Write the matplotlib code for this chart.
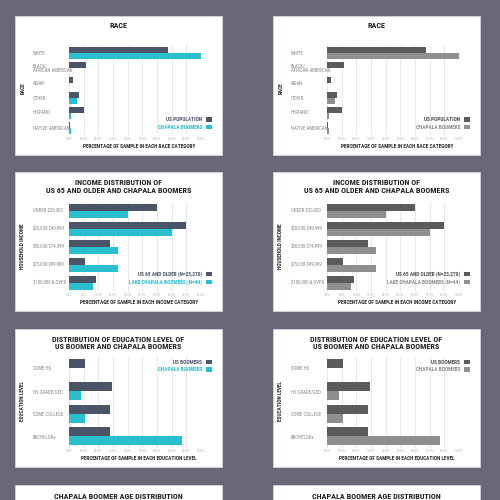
import matplotlib
matplotlib.use("Agg")
import matplotlib.pyplot as plt
from matplotlib import font_manager as fm
from matplotlib.patches import Rectangle, Patch
import numpy as np

# ---------------- data ----------------
race_cats = ["WHITE", "BLACK/\nAFRICAN AMERICAN", "ASIAN", "OTHER", "HISPANIC", "NATIVE AMERICAN"]
race_us = [67.4, 11.3, 2.9, 6.6, 10.4, 0.7]
race_chapala = [91.2, 0.0, 0.0, 5.4, 1.6, 1.6]
race_ticks = [0, 10, 20, 30, 40, 50, 60, 70, 80, 90]
race_legend = ["US POPULATION", "CHAPALA BOOMERS"]

income_cats = [r"UNDER \$20,000", r"\$20,000-\$49,999", r"\$50,000-\$74,999",
               r"\$75,000-\$99,999", r"\$100,000 & OVER"]
income_us = [30.0, 40.0, 14.1, 5.5, 9.1]
income_chapala = [20.0, 35.0, 16.7, 16.7, 8.2]
income_ticks = [0, 5, 10, 15, 20, 25, 30, 35, 40, 45]
income_legend = ["US 65 AND OLDER (N=23,270)", "LAKE CHAPALA BOOMERS (N=44)"]

edu_cats = ["SOME HS", "HS GRADE/GED", "SOME COLLEGE", "BACHELOR+"]
edu_us = [11.1, 29.2, 27.8, 27.8]
edu_chapala = [0.0, 8.1, 11.1, 77.1]
edu_ticks = [0, 10, 20, 30, 40, 50, 60, 70, 80, 90]
edu_legend = ["US BOOMERS", "CHAPALA BOOMERS"]

titles = ["RACE",
          "INCOME DISTRIBUTION OF\nUS 65 AND OLDER AND CHAPALA BOOMERS",
          "DISTRIBUTION OF EDUCATION LEVEL OF\nUS BOOMER AND CHAPALA BOOMERS",
          "CHAPALA BOOMER AGE DISTRIBUTION"]
ylabels = ["RACE", "HOUSEHOLD INCOME", "EDUCATION LEVEL"]
xlabels = ["PERCENTAGE OF SAMPLE IN EACH RACE CATEGORY",
           "PERCENTAGE OF SAMPLE IN EACH INCOME CATEGORY",
           "PERCENTAGE OF SAMPLE IN EACH EDUCATION LEVEL"]

# ---------------- fonts ----------------
avail = {f.name for f in fm.fontManager.ttflist}
FAM = "DejaVu Sans"
for cand in ["Liberation Sans Narrow", "Roboto Condensed", "Open Sans Condensed", "DejaVu Sans"]:
    if cand in avail:
        FAM = cand
        break
plt.rcParams["font.family"] = [FAM, "DejaVu Sans"]
plt.rcParams["font.stretch"] = "condensed"

BG = "#6b6779"
COLOR_SETS = [
    dict(us="#4a5568", ch="#29bfcf", us_txt="#4a5568", ch_txt="#29bfcf"),
    dict(us="#5b5b5b", ch="#8f8f8f", us_txt="#4f4f4f", ch_txt="#8a8a8a"),
]

fig = plt.figure(figsize=(5, 5), dpi=100, facecolor=BG)

def fx(x):
    return x / 500.0

def fy(y):
    return 1 - y / 500.0

def card(x0, y0, x1, y1):
    fig.patches.append(Rectangle((fx(x0), fy(y1)), (x1 - x0) / 500, (y1 - y0) / 500,
                                 transform=fig.transFigure, facecolor="white",
                                 edgecolor="#dcdce2", lw=0.5, zorder=-5))

def chart(xo, cfg, cats, us, ch, ticks, legend_labels, colors):
    ax = fig.add_axes([fx(69 + xo), fy(cfg["ax_bot"]), (201 - 69) / 500,
                       (cfg["ax_bot"] - cfg["ax_top"]) / 500])
    ax.set_zorder(2)
    n = len(cats)
    pos = np.arange(n)
    h = 0.4
    ax.barh(pos - h / 2, us, height=h, color=colors["us"], zorder=2)
    ax.barh(pos + h / 2, ch, height=h, color=colors["ch"], zorder=2)
    ax.set_ylim(n - 0.5, -0.5)
    ax.set_xlim(ticks[0], ticks[-1])
    ax.set_xticks(ticks)
    ax.set_xticklabels([f"{t:.1f}%" for t in ticks], fontsize=2.4, color="#b0b0b0")
    ax.tick_params(axis="x", length=0, pad=1.2)
    ax.set_yticks(pos)
    ax.set_yticklabels(cats, fontsize=3.5, color="#888888", linespacing=0.95)
    ax.tick_params(axis="y", length=0, pad=36 * 0.72)
    for lbl in ax.get_yticklabels():
        lbl.set_horizontalalignment("left")
    for s in ax.spines.values():
        s.set_visible(False)
    ax.grid(axis="x", color="#e4e4e4", lw=0.6, zorder=0)
    ax.set_axisbelow(True)
    ax.set_facecolor("none")
    handles = [Patch(facecolor=colors["us"]), Patch(facecolor=colors["ch"])]
    ax.legend(handles, legend_labels, loc=cfg["leg_loc"], markerfirst=False, frameon=False,
              bbox_to_anchor=(fx(212 + xo), fy(cfg["leg_y"])), bbox_transform=fig.transFigure,
              borderaxespad=0, borderpad=0, handlelength=1.2, handleheight=0.9,
              handletextpad=0.6, labelspacing=0.45,
              labelcolor=[colors["us_txt"], colors["ch_txt"]],
              prop=dict(family=[FAM, "DejaVu Sans"], weight="bold", size=3.9, stretch="condensed"))
    return ax

cfgs = [
    dict(card=(16, 155), title_y=26, ax_top=45, ax_bot=135, xl_y=146.5, yl_y=88,
         leg_loc="lower right", leg_y=130),
    dict(card=(172, 311), title_y=186.5, ax_top=201.7, ax_bot=291.7, xl_y=302, yl_y=246,
         leg_loc="lower right", leg_y=285),
    dict(card=(329, 467), title_y=343, ax_top=357, ax_bot=447.7, xl_y=459, yl_y=401,
         leg_loc="upper right", leg_y=359.5),
]
datasets = [
    (race_cats, race_us, race_chapala, race_ticks, race_legend),
    (income_cats, income_us, income_chapala, income_ticks, income_legend),
    (edu_cats, edu_us, edu_chapala, edu_ticks, edu_legend),
]

for col, xo in enumerate([0, 258]):
    colors = COLOR_SETS[col]
    for i, cfg in enumerate(cfgs):
        y0, y1 = cfg["card"]
        card(15 + xo, y0, 222 + xo, y1)
        fig.text(fx(118.5 + xo), fy(cfg["title_y"]), titles[i], ha="center", va="center",
                 fontsize=5.9, fontweight="bold", color="#1e1e1e", linespacing=1.1)
        cats, us, ch, ticks, leg = datasets[i]
        chart(xo, cfg, cats, us, ch, ticks, leg, colors)
        fig.text(fx(139 + xo), fy(cfg["xl_y"]), xlabels[i], ha="center", va="center",
                 fontsize=3.9, fontweight="bold", color="#2a2a2a")
        fig.text(fx(23 + xo), fy(cfg["yl_y"]), ylabels[i], ha="center", va="center",
                 rotation=90, fontsize=3.9, fontweight="bold", color="#2a2a2a")
    # partial bottom card
    card(15 + xo, 485, 222 + xo, 510)
    fig.text(fx(118.5 + xo), fy(496.5), titles[3], ha="center", va="center",
             fontsize=5.9, fontweight="bold", color="#1e1e1e")

fig.savefig("out.png", dpi=100, facecolor=BG)
